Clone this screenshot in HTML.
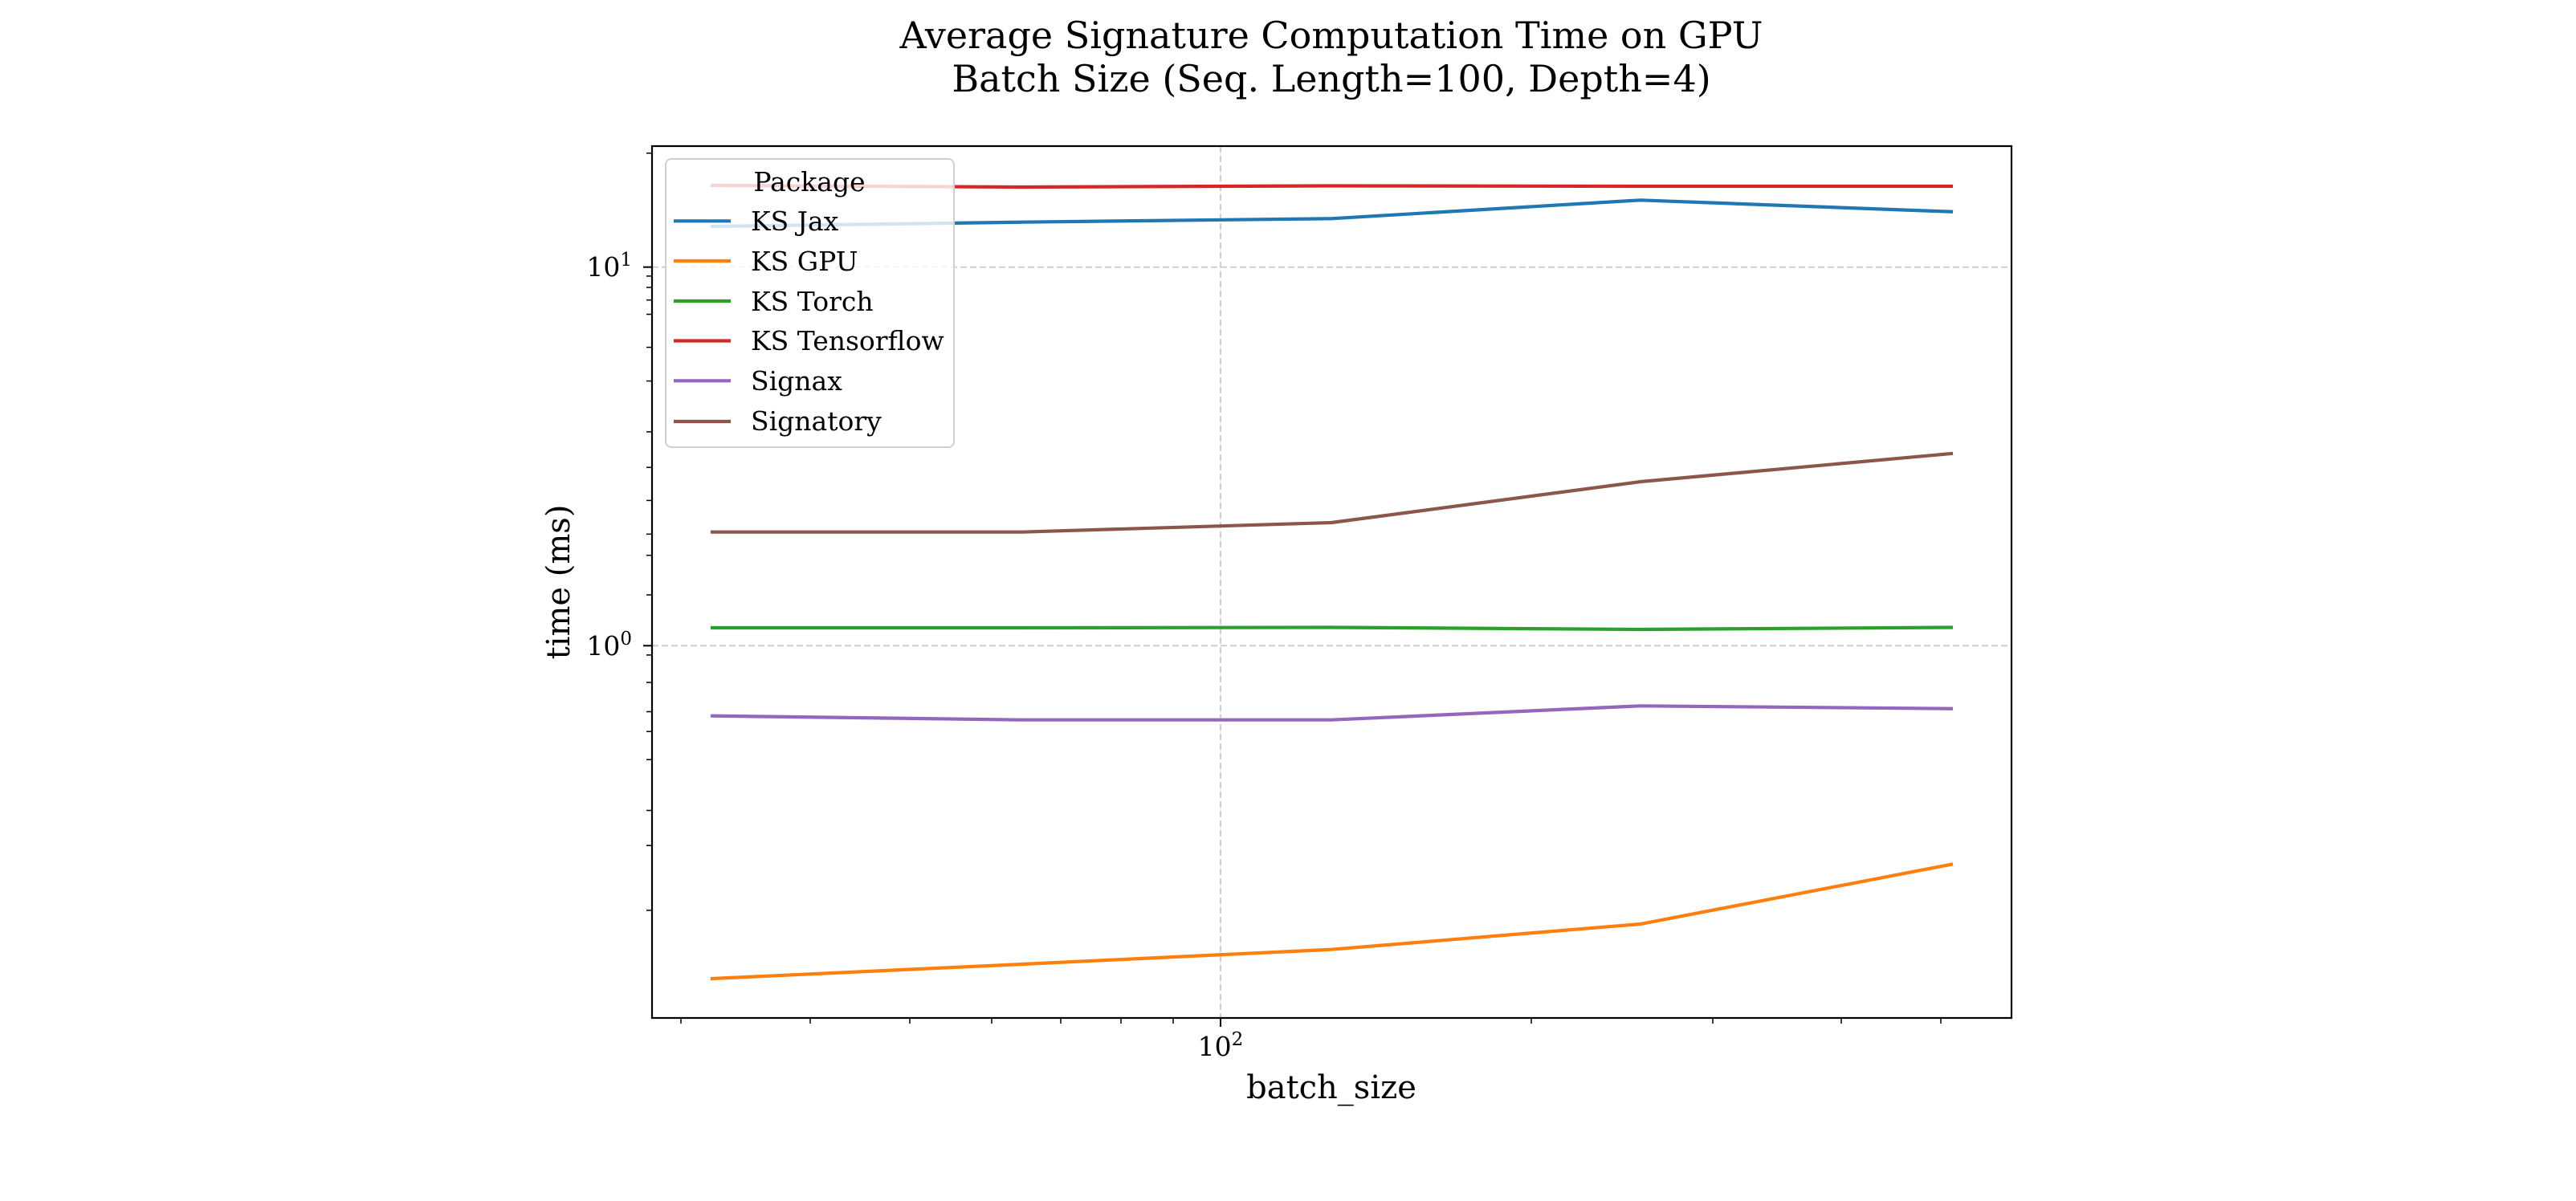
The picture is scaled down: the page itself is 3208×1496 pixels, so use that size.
<!DOCTYPE html>
<html><head><meta charset="utf-8"><style>html,body{margin:0;padding:0;background:#fff}svg{display:block}</style></head>
<body>
<svg width="3208" height="1496" viewBox="0 0 3208 1496" xmlns="http://www.w3.org/2000/svg" font-family="'DejaVu Serif','Liberation Serif',serif">
<rect width="3208" height="1496" fill="#fff"/>
<text x="1658" y="60" font-size="46" text-anchor="middle">Average Signature Computation Time on GPU</text>
<text x="1658" y="114" font-size="46" text-anchor="middle">Batch Size (Seq. Length=100, Depth=4)</text>
<!-- grid -->
<g stroke="#cfcfcf" stroke-width="2" stroke-dasharray="8,4" fill="none">
<line x1="1520" y1="182" x2="1520" y2="1268"/>
<line x1="812" y1="332.7" x2="2505" y2="332.7"/>
<line x1="812" y1="804.3" x2="2505" y2="804.3"/>
</g>
<!-- series -->
<g fill="none" stroke-width="4.2" stroke-linejoin="round" stroke-linecap="square">
<polyline stroke="#1f77b4" points="887,282 1273,276.7 1658,272.3 2043,249.3 2430,263.7"/>
<polyline stroke="#ff7f0e" points="887,1219 1273,1201 1658,1182.7 2043,1151 2430,1076.7"/>
<polyline stroke="#2ca02c" points="887,782 1273,782 1658,781.5 2043,784 2430,781.5"/>
<polyline stroke="#d62728" points="887,231 1273,233 1658,231.5 2043,232 2430,232"/>
<polyline stroke="#9467bd" points="887,891.7 1273,896.7 1658,896.7 2043,879.3 2430,882.7"/>
<polyline stroke="#8c564b" points="887,662.7 1273,662.7 1658,651 2043,600 2430,565"/>
</g>
<!-- axes -->
<rect x="812" y="182" width="1693" height="1086" fill="none" stroke="#000" stroke-width="2.2"/>
<g stroke="#000" stroke-width="2">
<line x1="801" y1="332.7" x2="812" y2="332.7"/>
<line x1="801" y1="804.3" x2="812" y2="804.3"/>
<line x1="1520" y1="1268" x2="1520" y2="1279"/>
</g>
<g stroke="#000" stroke-width="1.5">
<line x1="805" y1="190.8" x2="812" y2="190.8"/>
<line x1="805" y1="474.6" x2="812" y2="474.6"/>
<line x1="805" y1="391.5" x2="812" y2="391.5"/>
<line x1="805" y1="432.6" x2="812" y2="432.6"/>
<line x1="805" y1="373.7" x2="812" y2="373.7"/>
<line x1="805" y1="358.0" x2="812" y2="358.0"/>
<line x1="805" y1="343.9" x2="812" y2="343.9"/>
<line x1="805" y1="537.9" x2="812" y2="537.9"/>
<line x1="805" y1="665.3" x2="812" y2="665.3"/>
<line x1="805" y1="582.2" x2="812" y2="582.2"/>
<line x1="805" y1="623.4" x2="812" y2="623.4"/>
<line x1="805" y1="691.7" x2="812" y2="691.7"/>
<line x1="805" y1="741.0" x2="812" y2="741.0"/>
<line x1="805" y1="1133.9" x2="812" y2="1133.9"/>
<line x1="805" y1="946.2" x2="812" y2="946.2"/>
<line x1="805" y1="1009.5" x2="812" y2="1009.5"/>
<line x1="805" y1="850.1" x2="812" y2="850.1"/>
<line x1="805" y1="886.5" x2="812" y2="886.5"/>
<line x1="805" y1="815.9" x2="812" y2="815.9"/>
<line x1="805" y1="911.2" x2="812" y2="911.2"/>
<line x1="805" y1="1053.2" x2="812" y2="1053.2"/>
<line x1="848" y1="1268" x2="848" y2="1275"/>
<line x1="1009" y1="1268" x2="1009" y2="1275"/>
<line x1="1133" y1="1268" x2="1133" y2="1275"/>
<line x1="1235" y1="1268" x2="1235" y2="1275"/>
<line x1="1321" y1="1268" x2="1321" y2="1275"/>
<line x1="1396" y1="1268" x2="1396" y2="1275"/>
<line x1="1461" y1="1268" x2="1461" y2="1275"/>
<line x1="1907" y1="1268" x2="1907" y2="1275"/>
<line x1="2133" y1="1268" x2="2133" y2="1275"/>
<line x1="2293" y1="1268" x2="2293" y2="1275"/>
<line x1="2417" y1="1268" x2="2417" y2="1275"/>
</g>
<g font-size="33">
<text x="787" y="344" text-anchor="end">10<tspan font-size="23" dy="-13">1</tspan></text>
<text x="787" y="816" text-anchor="end">10<tspan font-size="23" dy="-13">0</tspan></text>
<text x="1520" y="1315" text-anchor="middle">10<tspan font-size="23" dy="-13">2</tspan></text>
</g>
<text x="1658" y="1368" font-size="40" text-anchor="middle">batch_size</text>
<text transform="translate(709,725) rotate(-90)" font-size="40" text-anchor="middle">time (ms)</text>
<!-- legend -->
<rect x="829" y="198" width="359" height="359" rx="7" fill="#fff" fill-opacity="0.8" stroke="#d0d0d0" stroke-width="2"/>
<text x="1008" y="238" font-size="33" text-anchor="middle">Package</text>
<g stroke-width="4.2">
<line x1="839" y1="275.3" x2="910" y2="275.3" stroke="#1f77b4"/>
<line x1="839" y1="325" x2="910" y2="325" stroke="#ff7f0e"/>
<line x1="839" y1="375" x2="910" y2="375" stroke="#2ca02c"/>
<line x1="839" y1="424.5" x2="910" y2="424.5" stroke="#d62728"/>
<line x1="839" y1="474.3" x2="910" y2="474.3" stroke="#9467bd"/>
<line x1="839" y1="525" x2="910" y2="525" stroke="#8c564b"/>
</g>
<g font-size="33">
<text x="935" y="287">KS Jax</text>
<text x="935" y="337">KS GPU</text>
<text x="935" y="387">KS Torch</text>
<text x="935" y="436">KS Tensorflow</text>
<text x="935" y="486">Signax</text>
<text x="935" y="536">Signatory</text>
</g>
</svg>
</body></html>
